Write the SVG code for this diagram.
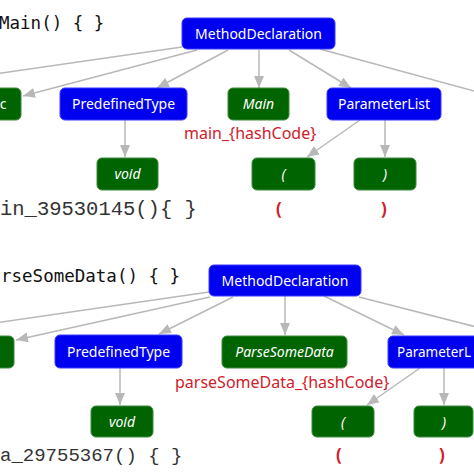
<svg xmlns="http://www.w3.org/2000/svg" width="474" height="474" viewBox="0 0 474 474">
<defs>
<marker id="ah" markerUnits="userSpaceOnUse" markerWidth="12" markerHeight="10" refX="12" refY="5" orient="auto">
<path d="M0,0 L12,5 L0,10 z" fill="#b8b8b8"/>
</marker>
<style>
.edge{stroke:#b8b8b8;stroke-width:1.5;fill:none;marker-end:url(#ah)}
.blue{fill:#0000f0;stroke:#3a3aff;stroke-width:1}
.green{fill:#006400;stroke:#3d8a3d;stroke-width:1}
.lbl{font-family:"Noto Sans","Open Sans",sans-serif;font-size:14px;fill:#ffffff;text-anchor:middle}
.it{font-style:italic}
.red{font-family:"Noto Sans","Open Sans",sans-serif;font-size:16px;fill:#d0202a}
.par{font-family:"Noto Sans",sans-serif;font-size:17px;font-weight:bold;fill:#d0202a;text-anchor:middle}
.code{font-family:"DejaVu Sans Mono",monospace;font-size:17.5px;fill:#111111}
.mono{font-family:"Liberation Mono","Courier New",monospace;fill:#333333}
</style>
</defs>
<g id="connectors">
<line class="edge" x1="182" y1="47" x2="-40" y2="79"/>
<line class="edge" x1="197" y1="50" x2="23" y2="96"/>
<line class="edge" x1="228" y1="50" x2="157" y2="88"/>
<line class="edge" x1="259" y1="50" x2="259" y2="88"/>
<line class="edge" x1="289" y1="50" x2="351" y2="88"/>
<line class="edge" x1="320" y1="49" x2="500" y2="98"/>
<line class="edge" x1="125" y1="120" x2="125" y2="157"/>
<line class="edge" x1="360" y1="120" x2="307" y2="157"/>
<line class="edge" x1="385" y1="120" x2="385" y2="157"/>
<line class="edge" x1="209" y1="292" x2="-40" y2="328"/>
<line class="edge" x1="210" y1="297" x2="16" y2="340"/>
<line class="edge" x1="233" y1="297" x2="159" y2="334"/>
<line class="edge" x1="285" y1="296" x2="285" y2="335"/>
<line class="edge" x1="324" y1="296" x2="404" y2="335"/>
<line class="edge" x1="359" y1="297" x2="500" y2="333"/>
<line class="edge" x1="120" y1="368" x2="120" y2="405"/>
<line class="edge" x1="420" y1="368" x2="367" y2="405"/>
<line class="edge" x1="444" y1="368" x2="444" y2="405"/>
</g>
<text class="code" x="-1" y="29">Main() { }</text>
<text class="mono" x="0" y="215" font-size="20.5">in_39530145(){ }</text>
<text class="code" x="1" y="282">rseSomeData() { }</text>
<text class="mono" x="0" y="461" font-size="19">a_29755367() { }</text>
<g id="md1"><rect class="blue" x="182" y="18" width="153" height="31" rx="5"/><text class="lbl" x="258.5" y="39">MethodDeclaration</text></g>
<g id="mod1"><rect class="green" x="-10" y="88" width="31" height="32" rx="5"/><text class="lbl" x="3" y="109">c</text></g>
<g id="pt1"><rect class="blue" x="60" y="88" width="127" height="32" rx="5"/><text class="lbl" x="123.5" y="109">PredefinedType</text></g>
<g id="main1"><rect class="green" x="228" y="88" width="61" height="32" rx="5"/><text class="lbl it" x="258.5" y="109">Main</text></g>
<g id="pl1"><rect class="blue" x="327" y="88" width="114" height="32" rx="5"/><text class="lbl" x="384" y="109">ParameterList</text></g>
<g id="void1"><rect class="green" x="97" y="158" width="61" height="32" rx="5"/><text class="lbl it" x="127.5" y="179">void</text></g>
<g id="lp1"><rect class="green" x="252" y="158" width="63" height="32" rx="5"/><text class="lbl it" x="283.5" y="179">(</text></g>
<g id="rp1"><rect class="green" x="354" y="158" width="62" height="32" rx="5"/><text class="lbl it" x="385" y="179">)</text></g>
<text class="red" x="184" y="139">main_{hashCode}</text>
<text class="par" x="279" y="215">(</text>
<text class="par" x="384" y="215">)</text>
<g id="md2"><rect class="blue" x="209" y="265" width="152" height="31" rx="5"/><text class="lbl" x="285" y="286">MethodDeclaration</text></g>
<g id="mod2"><rect class="green" x="-10" y="336" width="24" height="32" rx="5"/></g>
<g id="pt2"><rect class="blue" x="55" y="335" width="127" height="33" rx="5"/><text class="lbl" x="118.5" y="357">PredefinedType</text></g>
<g id="psd"><rect class="green" x="222" y="336" width="125" height="32" rx="5"/><text class="lbl it" x="284.5" y="357">ParseSomeData</text></g>
<g id="pl2"><rect class="blue" x="388" y="336" width="100" height="32" rx="5"/><text class="lbl" x="397" y="357" style="text-anchor:start;font-size:13.5px">ParameterL</text></g>
<g id="void2"><rect class="green" x="91" y="406" width="62" height="31" rx="5"/><text class="lbl it" x="122" y="427">void</text></g>
<g id="lp2"><rect class="green" x="312" y="406" width="62" height="31" rx="5"/><text class="lbl it" x="343" y="427">(</text></g>
<g id="rp2"><rect class="green" x="414" y="406" width="59" height="31" rx="5"/><text class="lbl it" x="444" y="427">)</text></g>
<text class="red" x="175" y="388">parseSomeData_{hashCode}</text>
<text class="par" x="339" y="461">(</text>
<text class="par" x="442" y="461">)</text>
</svg>
